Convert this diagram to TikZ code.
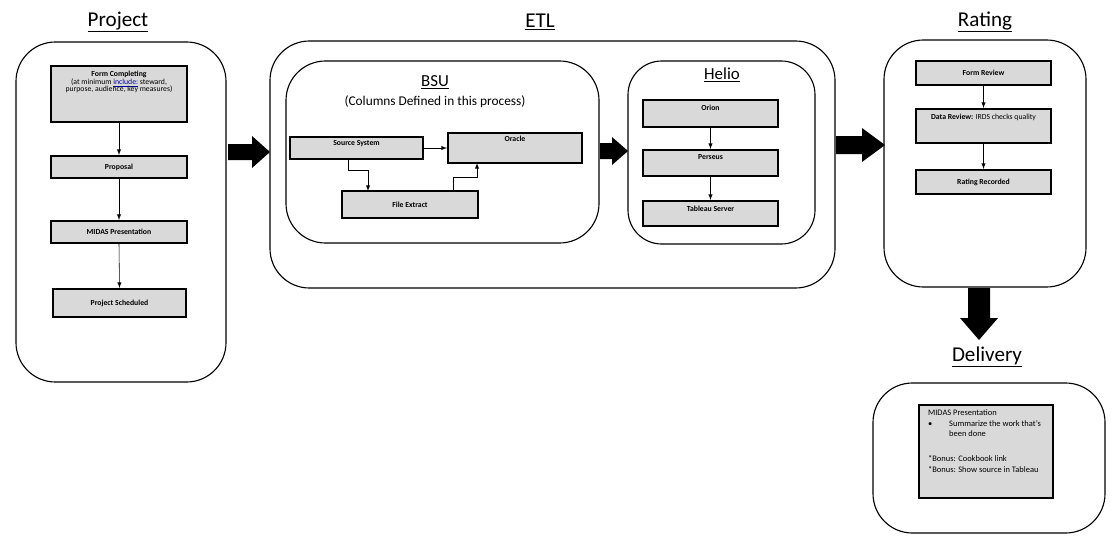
\documentclass[tikz,border=0pt]{standalone}
\usepackage{fontspec}
\setmainfont{Carlito}
\begin{document}
\begin{tikzpicture}[x=0.025cm,y=-0.025cm,
  grp/.style={draw,line width=0.8pt,rounded corners=28},
  bx/.style={draw,line width=1.4pt,fill=gray!30,font=\fontsize{5.5}{6.5}\selectfont\bfseries,align=center},
  lbl/.style={font=\fontsize{5.5}{6.5}\selectfont\bfseries,align=center,anchor=north,inner sep=2pt},
  ttl/.style={font=\fontsize{15}{18}\selectfont},
  ln/.style={draw,line width=0.4pt,-latex}]
\useasboundingbox (0,0) rectangle (1117,559);
% Project
\node[ttl] (tp) at (118,22) {\underline{Project}};
\draw[grp] (16,42) rectangle (226,382);
\node[bx,minimum width=136*0.025cm,minimum height=56*0.025cm] (fc) at (119,94) {};
\node[lbl] (fct) at ([yshift=-2pt]fc.north) {Form Completing\\[-1pt]{\mdseries (at minimum \textcolor{blue!60!black}{\underline{include:}} steward,}\\[-1pt]{\mdseries purpose, audience, key measures)}};
\node[bx,minimum width=136*0.025cm,minimum height=22*0.025cm] (pr) at (119,167) {Proposal};
\node[bx,minimum width=136*0.025cm,minimum height=22*0.025cm] (mp) at (119,232) {MIDAS Presentation};
\node[bx,minimum width=133*0.025cm,minimum height=28*0.025cm] (ps) at (119.5,303) {Project Scheduled};
\draw[ln] (fc.south) -- (pr.north);
\draw[ln] (pr.south) -- (mp.north);
\draw[ln] (mp.south) -- (ps.north);
% fat arrows
\fill (228,144) -- (252,144) -- (252,136) -- (270,152) -- (252,168) -- (252,160) -- (228,160) -- cycle;
\fill (600,143) -- (612,143) -- (612,137) -- (628,151) -- (612,165) -- (612,159) -- (600,159) -- cycle;
\fill (836,136) -- (862,136) -- (862,128) -- (885,145) -- (862,162) -- (862,154) -- (836,154) -- cycle;
\fill (968,288) -- (990,288) -- (990,318) -- (998,318) -- (979,340) -- (960,318) -- (968,318) -- cycle;
% ETL
\node[ttl] (te) at (540,22) {\underline{ETL}};
\draw[grp] (270,41) rectangle (835,288);
\draw[grp] (286,61) rectangle (599,243);
\node[font=\fontsize{12}{14}\selectfont] (tb) at (435,82) {\underline{BSU}};
\node[font=\fontsize{9.5}{11}\selectfont] (tbs) at (435,102) {(Columns Defined in this process)};
\node[bx,minimum width=133*0.025cm,minimum height=22*0.025cm] (ss) at (356.5,148) {};
\node[lbl] (sst) at ([yshift=-1pt]ss.north) {Source System};
\node[bx,minimum width=134*0.025cm,minimum height=30*0.025cm] (or) at (515,148) {};
\node[lbl] (ort) at ([yshift=-1pt]or.north) {Oracle};
\node[bx,minimum width=136*0.025cm,minimum height=27*0.025cm] (fe) at (410,204.5) {File Extract};
\draw[ln] (ss.east) -- (or.west|-ss.east);
\draw[ln] (348,159) |- (368,170) -- (368,191);
\draw[ln] (453,191) |- (477,177) -- (477,163);
\draw[grp,rounded corners=24] (628,61) rectangle (815,244);
\node[font=\fontsize{12}{14}\selectfont] (th) at (722,75) {\underline{Helio}};
\node[bx,minimum width=135*0.025cm,minimum height=27*0.025cm] (ori) at (710.5,113.5) {};
\node[lbl] (orit) at ([yshift=-2pt]ori.north) {Orion};
\node[bx,minimum width=135*0.025cm,minimum height=26*0.025cm] (per) at (710.5,163) {};
\node[lbl] (pert) at ([yshift=-2pt]per.north) {Perseus};
\node[bx,minimum width=135*0.025cm,minimum height=25*0.025cm] (tab) at (710.5,213.5) {};
\node[lbl] (tabt) at ([yshift=-2pt]tab.north) {Tableau Server};
\draw[ln] (ori.south) -- (per.north);
\draw[ln] (per.south) -- (tab.north);
% Rating
\node[ttl] (tr) at (985,22) {\underline{Rating}};
\draw[grp] (884,40) rectangle (1086,287);
\node[bx,minimum width=135*0.025cm,minimum height=24*0.025cm] (fr) at (983.5,73) {Form Review};
\node[bx,minimum width=135*0.025cm,minimum height=34*0.025cm] (dr) at (983.5,126) {};
\node[lbl] (drt) at ([yshift=-2pt]dr.north) {Data Review: {\mdseries IRDS checks quality}};
\node[bx,minimum width=135*0.025cm,minimum height=24*0.025cm] (rr) at (983.5,182) {Rating Recorded};
\draw[ln] (fr.south) -- (dr.north);
\draw[ln] (dr.south) -- (rr.north);
% Delivery
\node[ttl] (td) at (987,357) {\underline{Delivery}};
\draw[grp] (873,383) rectangle (1105,533);
\node[bx,minimum width=134*0.025cm,minimum height=93*0.025cm] (dv) at (986,451.5) {};
\node[anchor=north west,align=left,inner sep=0pt,font=\fontsize{6}{7.5}\selectfont] (dvt) at ([xshift=7pt,yshift=-4pt]dv.north west)
 {MIDAS Presentation\\
 \makebox[2.5em][l]{•}Summarize the work that's\\
 \makebox[2.5em][l]{}been done\\[10pt]
 {}*Bonus: Cookbook link\\
 {}*Bonus: Show source in Tableau};
\end{tikzpicture}
\end{document}
